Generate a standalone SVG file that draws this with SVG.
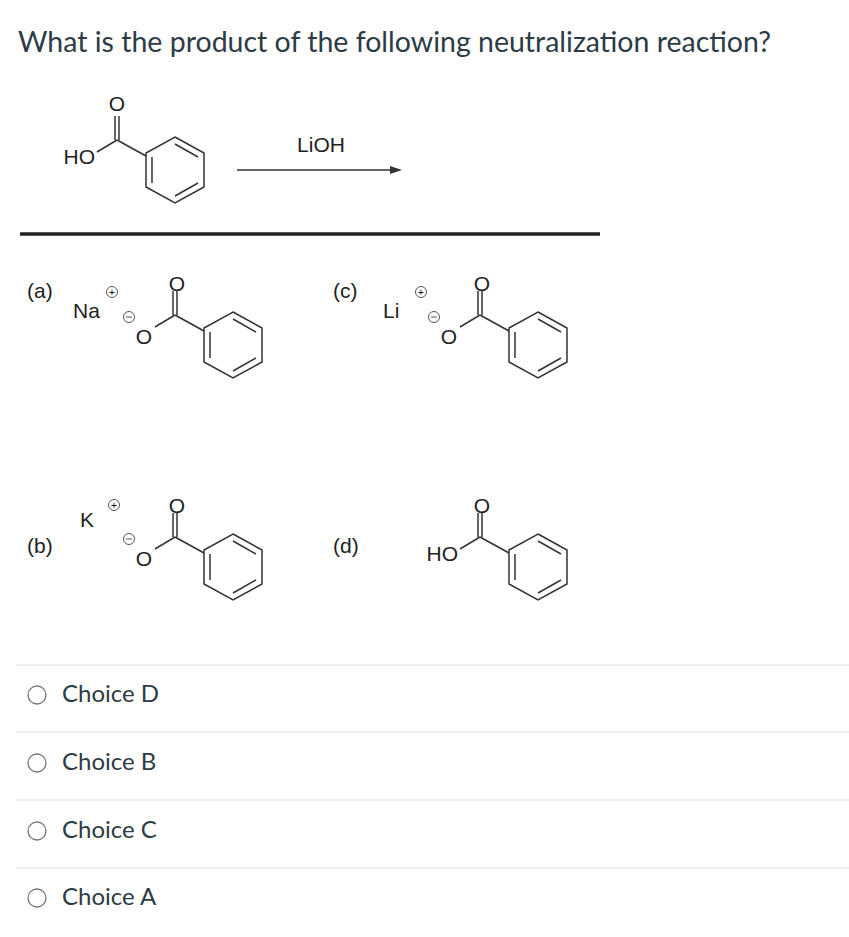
<svg xmlns="http://www.w3.org/2000/svg" width="849" height="937" viewBox="0 0 849 937">
<style>
.t{font-family:Lato,"Liberation Sans",sans-serif;fill:#2d3b45}
.c{font-family:"Liberation Sans",Arial,sans-serif;fill:#222;font-size:21px}
.b{stroke:#333;stroke-width:1.5;fill:none}
.sep{stroke:#ddd;stroke-width:1}
.r{fill:#fff;stroke:#777;stroke-width:1.3}
.ch{fill:none;stroke:#555;stroke-width:1}
</style>
<defs>
<g id="core">
<line class="b" x1="0" y1="0" x2="29" y2="16"/>
<line class="b" x1="-2" y1="0" x2="-2" y2="-24"/>
<line class="b" x1="2" y1="0" x2="2" y2="-24"/>
<polygon class="b" points="58,-3 87,13 87,47 58,63 29,47 29,13"/>
<line class="b" x1="58" y1="4" x2="81" y2="17"/>
<line class="b" x1="81" y1="43" x2="58" y2="56"/>
<line class="b" x1="35" y1="17" x2="35" y2="43"/>
<line class="b" x1="0" y1="0" x2="-20" y2="12"/>
</g>
</defs>
<text class="t" x="18" y="52" font-size="28.5">What is the product of the following neutralization reaction?</text>
<g id="start">
<use href="#core" x="117" y="140"/>
<text class="c" x="117" y="111" text-anchor="middle">O</text>
<text class="c" x="95" y="164" text-anchor="end">HO</text>
</g>
<g id="connectors">
<line x1="237" y1="170" x2="392" y2="170" stroke="#333" stroke-width="1.5"/>
<polygon points="402,170 390,166 390,174" fill="#333"/>
</g>
<text class="c" x="321" y="152" text-anchor="middle">LiOH</text>
<line x1="20" y1="234" x2="600" y2="234" stroke="#222" stroke-width="3.5"/>
<g id="a">
<text class="c" x="27" y="298" font-size="20">(a)</text>
<text class="c" x="73" y="318">Na</text>
<circle class="ch" cx="112" cy="292" r="5.5"/><text x="112" y="296" font-size="10" text-anchor="middle" font-family="Liberation Sans,sans-serif">+</text>
<use href="#core" x="175" y="315"/>
<text class="c" x="177" y="291" text-anchor="middle">O</text>
<text class="c" x="144" y="344" text-anchor="middle">O</text>
<circle class="ch" cx="129" cy="317" r="5.5"/><line x1="126" y1="317" x2="132" y2="317" stroke="#555"/>
</g>
<g id="c">
<text class="c" x="333" y="298" font-size="20">(c)</text>
<text class="c" x="383" y="318">Li</text>
<circle class="ch" cx="421" cy="292" r="5.5"/><text x="421" y="296" font-size="10" text-anchor="middle" font-family="Liberation Sans,sans-serif">+</text>
<use href="#core" x="480" y="315"/>
<text class="c" x="482" y="291" text-anchor="middle">O</text>
<text class="c" x="449" y="344" text-anchor="middle">O</text>
<circle class="ch" cx="434" cy="317" r="5.5"/><line x1="431" y1="317" x2="437" y2="317" stroke="#555"/>
</g>
<g id="b">
<text class="c" x="27" y="553" font-size="20">(b)</text>
<text class="c" x="80" y="527">K</text>
<circle class="ch" cx="114" cy="505" r="5.5"/><text x="114" y="509" font-size="10" text-anchor="middle" font-family="Liberation Sans,sans-serif">+</text>
<use href="#core" x="175" y="537"/>
<text class="c" x="177" y="513" text-anchor="middle">O</text>
<text class="c" x="144" y="566" text-anchor="middle">O</text>
<circle class="ch" cx="129" cy="539" r="5.5"/><line x1="126" y1="539" x2="132" y2="539" stroke="#555"/>
</g>
<g id="d">
<text class="c" x="333" y="553" font-size="20">(d)</text>
<use href="#core" x="480" y="537"/>
<text class="c" x="482" y="513" text-anchor="middle">O</text>
<text class="c" x="458" y="561" text-anchor="end">HO</text>
</g>
<line class="sep" x1="16" y1="665" x2="849" y2="665"/>
<line class="sep" x1="16" y1="732" x2="849" y2="732"/>
<line class="sep" x1="16" y1="800" x2="849" y2="800"/>
<line class="sep" x1="16" y1="868" x2="849" y2="868"/>
<g id="opt1"><circle class="r" cx="37" cy="695" r="9"/><text class="t" x="62" y="702" font-size="24">Choice D</text></g>
<g id="opt2"><circle class="r" cx="37" cy="763" r="9"/><text class="t" x="62" y="770" font-size="24">Choice B</text></g>
<g id="opt3"><circle class="r" cx="37" cy="831" r="9"/><text class="t" x="62" y="838" font-size="24">Choice C</text></g>
<g id="opt4"><circle class="r" cx="37" cy="898" r="9"/><text class="t" x="62" y="905" font-size="24">Choice A</text></g>
</svg>
